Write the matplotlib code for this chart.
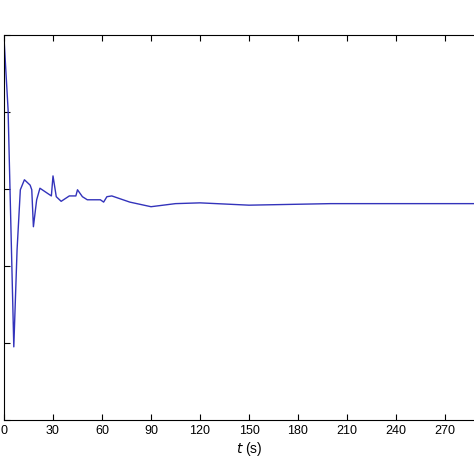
import matplotlib
matplotlib.use("Agg")
import matplotlib.pyplot as plt

t = [0, 2.5, 6, 8, 10, 12.5, 16, 17, 18, 20, 22, 29, 30, 32, 35, 40, 44, 45, 48, 51, 59, 61, 63, 66, 77, 90, 105, 120, 150, 200, 300]
y = [4.96, 4.03, 0.95, 2.21, 2.99, 3.12, 3.05, 2.99, 2.51, 2.86, 3.01, 2.91, 3.17, 2.90, 2.84, 2.91, 2.91, 2.99, 2.90, 2.86, 2.86, 2.83, 2.90, 2.91, 2.83, 2.77, 2.81, 2.82, 2.79, 2.81, 2.81]
xticks = list(range(0, 300, 30))

plt.rcParams['font.family'] = ['Liberation Sans', 'DejaVu Sans']
fig = plt.figure(figsize=(4.74, 4.74), dpi=100)
ax = fig.add_axes([4/474, 54/474, 490/474, 385/474])
ax.plot(t, y, color='#3333bb', lw=1.0)
ax.set_xlim(0, 300)
ax.set_ylim(0, 5)
ax.set_xticks(xticks)
ax.set_yticks([0, 1, 2, 3, 4, 5])
ax.set_yticklabels([])
ax.tick_params(direction='in', top=True, right=True, labelsize=9, length=4)
ax.set_xlabel('$t$ (s)', fontsize=10, labelpad=2)
fig.savefig('out.png', dpi=100)
